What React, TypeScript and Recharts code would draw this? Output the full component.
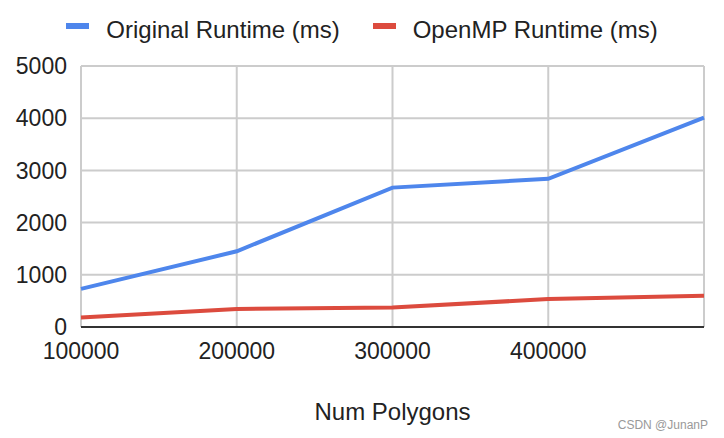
import {
  LineChart, Line, XAxis, YAxis, CartesianGrid, Legend, Label,
} from 'recharts'

const numPolygons = [100000, 200000, 300000, 400000, 500000]
const originalRuntime = [730, 1450, 2670, 2840, 4010]
const openmpRuntime = [180, 345, 375, 535, 600]
const xTicks = [100000, 200000, 300000, 400000, 500000]
const yTicks = [0, 1000, 2000, 3000, 4000, 5000]

const FONT = '"Liberation Sans", Arial, sans-serif'
const BLUE = '#4e86ec'
const RED = '#dc4b3e'

const data = numPolygons.map((n, i) => ({
  n,
  original: originalRuntime[i],
  openmp: openmpRuntime[i],
}))

const legendItems = [
  { label: 'Original Runtime (ms)', color: BLUE },
  { label: 'OpenMP Runtime (ms)', color: RED },
]

function ChartLegend() {
  return (
    <div
      style={{
        display: 'flex',
        justifyContent: 'center',
        gap: 33,
        fontFamily: FONT,
        fontSize: 24,
        lineHeight: '24px',
        color: '#222',
      }}
    >
      {legendItems.map((it) => (
        <div key={it.label} style={{ display: 'flex', alignItems: 'flex-start' }}>
          <div style={{ width: 23, height: 6, marginTop: 5, marginRight: 17, background: it.color }} />
          <span>{it.label}</span>
        </div>
      ))}
    </div>
  )
}

export default function App() {
  return (
    <div style={{ position: 'absolute', left: 0, top: 0, width: 724, height: 438, background: '#fff' }}>
      <LineChart
        width={724}
        height={438}
        data={data}
        margin={{ top: 66, right: 20, bottom: 0, left: 0 }}
      >
        <CartesianGrid stroke="#cccccc" strokeWidth={2} />
        <XAxis
          dataKey="n"
          type="number"
          domain={[100000, 500000]}
          ticks={xTicks}
          tickFormatter={(v) => (v === 500000 ? '' : String(v))}
          tick={{ fill: '#222', fontSize: 23, fontFamily: FONT }}
          tickLine={false}
          tickSize={0}
          tickMargin={16}
          axisLine={{ stroke: '#333333', strokeWidth: 2 }}
          height={111}
        >
          <Label
            value="Num Polygons"
            position="insideTop"
            offset={76}
            style={{ fill: '#222', fontSize: 24, fontFamily: FONT }}
          />
        </XAxis>
        <YAxis
          type="number"
          domain={[0, 5000]}
          ticks={yTicks}
          tick={{ fill: '#222', fontSize: 23, fontFamily: FONT }}
          tickLine={false}
          axisLine={false}
          tickSize={0}
          tickMargin={14}
          width={81}
        />
        <Legend
          verticalAlign="middle"
          align="center"
          layout="horizontal"
          wrapperStyle={{ top: 18, left: 0, width: 724 }}
          content={() => <ChartLegend />}
        />
        <Line
          type="linear"
          dataKey="original"
          stroke={BLUE}
          strokeWidth={4}
          dot={false}
          isAnimationActive={false}
        />
        <Line
          type="linear"
          dataKey="openmp"
          stroke={RED}
          strokeWidth={4}
          dot={false}
          isAnimationActive={false}
        />
      </LineChart>
      <div
        style={{
          position: 'absolute',
          right: 16,
          top: 418,
          fontFamily: FONT,
          fontSize: 12,
          color: '#999',
        }}
      >
        CSDN @JunanP
      </div>
    </div>
  )
}
